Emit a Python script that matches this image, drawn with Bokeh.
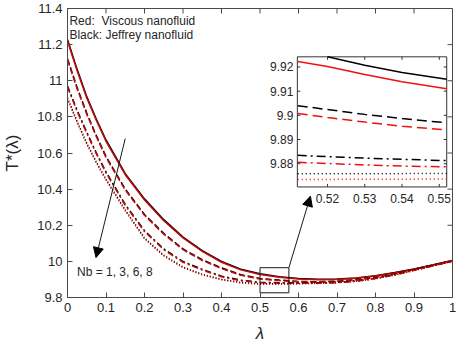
import math
from bokeh.plotting import figure
from bokeh.models import (Range1d, FixedTicker, CustomJSTickFormatter,
                          Arrow, NormalHead, Label)
from bokeh.embed import file_html
from bokeh.resources import INLINE
from bokeh.core.properties import value

# ---------------- data ----------------
lam = [0, 0.025, 0.05, 0.075, 0.1, 0.15, 0.2, 0.25, 0.3, 0.35, 0.4, 0.45, 0.5,
       0.55, 0.6, 0.65, 0.7, 0.75, 0.8, 0.85, 0.9, 0.95, 1.0]

# Red: viscous nanofluid
red_nb1 = [11.22, 11.055, 10.905, 10.78, 10.665, 10.48, 10.34, 10.225, 10.13, 10.055, 9.995, 9.953, 9.927,
           9.9115, 9.902, 9.898, 9.899, 9.906, 9.919, 9.936, 9.957, 9.98, 10.005]
red_nb3 = [11.115, 10.955, 10.815, 10.69, 10.575, 10.395, 10.255, 10.15, 10.065, 10.005, 9.96, 9.923, 9.9025,
           9.8935, 9.887, 9.885, 9.888, 9.897, 9.912, 9.931, 9.954, 9.978, 10.003]
red_nb6 = [10.965, 10.83, 10.71, 10.595, 10.49, 10.31, 10.165, 10.065, 9.995, 9.952, 9.915, 9.893, 9.8815,
           9.879, 9.8785, 9.879, 9.882, 9.89, 9.905, 9.926, 9.951, 9.976, 10.002]
red_nb8 = [10.90, 10.77, 10.65, 10.545, 10.45, 10.28, 10.125, 10.03, 9.965, 9.925, 9.898, 9.881, 9.8737,
           9.8741, 9.8755, 9.878, 9.882, 9.89, 9.904, 9.924, 9.949, 9.975, 10.0]
# Black: Jeffrey nanofluid
blk_nb1 = [11.228, 11.063, 10.912, 10.787, 10.672, 10.486, 10.346, 10.231, 10.135, 10.06, 10.0, 9.957, 9.931,
           9.9155, 9.905, 9.901, 9.902, 9.908, 9.921, 9.938, 9.958, 9.981, 10.005]
blk_nb3 = [11.122, 10.962, 10.821, 10.696, 10.581, 10.4, 10.26, 10.155, 10.069, 10.009, 9.964, 9.926, 9.9055,
           9.8965, 9.889, 9.887, 9.89, 9.899, 9.913, 9.932, 9.955, 9.979, 10.003]
blk_nb6 = [10.971, 10.836, 10.716, 10.6, 10.495, 10.315, 10.17, 10.069, 9.999, 9.956, 9.918, 9.896, 9.8843,
           9.8817, 9.881, 9.881, 9.884, 9.892, 9.906, 9.927, 9.952, 9.977, 10.002]
blk_nb8 = [10.905, 10.775, 10.655, 10.55, 10.455, 10.285, 10.13, 10.034, 9.969, 9.928, 9.901, 9.883, 9.876,
           9.876, 9.8775, 9.88, 9.884, 9.891, 9.905, 9.925, 9.95, 9.976, 10.0]

# inset (zoomed) readings
inset_lam = [0.512, 0.52, 0.53, 0.54, 0.552]
in_red_nb1 = [9.9223, 9.9202, 9.9169, 9.9139, 9.9110]
in_blk_nb1 = [float("nan"), 9.9242, 9.9207, 9.9177, 9.9149]
in_red_nb3 = [9.9008, 9.8991, 9.8972, 9.8955, 9.8940]
in_blk_nb3 = [9.9040, 9.9024, 9.9004, 9.8987, 9.8969]
in_red_nb6 = [9.8806, 9.8801, 9.8795, 9.8790, 9.8787]
in_blk_nb6 = [9.8835, 9.8829, 9.8823, 9.8818, 9.8813]
in_red_nb8 = [9.8735, 9.8735, 9.8736, 9.8736, 9.8737]
in_blk_nb8 = [9.8758, 9.8758, 9.8759, 9.8759, 9.8760]

x_ticks = [0, 0.1, 0.2, 0.3, 0.4, 0.5, 0.6, 0.7, 0.8, 0.9, 1.0]
y_ticks = [9.8, 10.0, 10.2, 10.4, 10.6, 10.8, 11.0, 11.2, 11.4]
inset_xticks = [0.52, 0.53, 0.54, 0.55]
inset_yticks = [9.88, 9.89, 9.90, 9.91, 9.92]

# ---------------- layout / style ----------------
x_lim = (0, 1)
y_lim = (9.8, 11.4)
inset_xlim = (0.5119, 0.552)
inset_ylim = (9.8704, 9.9242)
inset_fx = (0.597, 0.985)      # inset box position as fraction of main frame
inset_fy = (0.3826, 0.8328)
zoom_box = (0.5, 0.575, 9.826, 9.965)
nb_arrow = (0.150, 10.68, 0.074, 10.021)
zoom_arrow = (0.575, 9.965, 0.631, 10.361)

FONT = "Liberation Sans"
AX = "#4a4a4a"
TXT = "#262626"
RED = "#ee1111"
MAIN_RED = "#c80a0a"

main_dash = ["solid", "6 3", "6 3 2 3", "1 2"]
inset_dash = ["solid", "10 5", "9 4 2 4", "1 3"]
reds = [red_nb1, red_nb3, red_nb6, red_nb8]
blks = [blk_nb1, blk_nb3, blk_nb6, blk_nb8]
in_reds = [in_red_nb1, in_red_nb3, in_red_nb6, in_red_nb8]
in_blks = [in_blk_nb1, in_blk_nb3, in_blk_nb6, in_blk_nb8]

p = figure(width=458, height=345, x_range=Range1d(*x_lim), y_range=Range1d(*y_lim),
           output_backend="svg", toolbar_location=None,
           min_border_left=54, min_border_right=6, min_border_top=8, min_border_bottom=4)
p.background_fill_color = "white"
p.border_fill_color = "white"
p.xgrid.grid_line_color = None
p.ygrid.grid_line_color = None
p.outline_line_color = AX

fmt = CustomJSTickFormatter(code="return String(Math.round(tick*1000)/1000);")
for ax, ticks in ((p.xaxis[0], x_ticks), (p.yaxis[0], y_ticks)):
    ax.ticker = FixedTicker(ticks=ticks)
    ax.formatter = fmt
    ax.major_tick_in = 5
    ax.major_tick_out = 0
    ax.minor_tick_line_color = None
    ax.axis_line_color = AX
    ax.major_tick_line_color = AX
    ax.major_label_text_font = FONT
    ax.major_label_text_font_size = "13px"
    ax.major_label_text_color = TXT
    ax.major_label_standoff = 5
    ax.axis_label_text_font = FONT
    ax.axis_label_text_font_size = "17px"
    ax.axis_label_text_color = TXT
p.xaxis[0].axis_label = "λ"
p.xaxis[0].axis_label_text_font_style = "italic"
p.xaxis[0].axis_label_standoff = 9
p.yaxis[0].axis_label = "T*(λ)"
p.yaxis[0].axis_label_text_font_style = "normal"
p.yaxis[0].axis_label_standoff = 12

# box ticks on the top and right edges (pointing inward)
p.ray(x=x_ticks, y=[y_lim[1]] * len(x_ticks), length=5, length_units="screen",
      angle=-math.pi / 2, line_color=AX)
p.ray(x=[x_lim[1]] * len(y_ticks), y=y_ticks, length=5, length_units="screen",
      angle=math.pi, line_color=AX)

# main curves: black (Jeffrey) below, red (viscous) on top
for d, b, r in zip(main_dash, blks, reds):
    p.line(lam, b, line_color="black", line_width=1.5, line_dash=d)
    p.line(lam, r, line_color=MAIN_RED, line_width=1.5, line_dash=d)

# zoom rectangle
p.quad(left=zoom_box[0], right=zoom_box[1], bottom=zoom_box[2], top=zoom_box[3],
       fill_color=None, line_color="#1a1a1a", line_width=1)

# inset via extra ranges positioned on the frame
sx = (inset_xlim[1] - inset_xlim[0]) / (inset_fx[1] - inset_fx[0])
ix0 = inset_xlim[0] - inset_fx[0] * sx
sy = (inset_ylim[1] - inset_ylim[0]) / (inset_fy[1] - inset_fy[0])
iy0 = inset_ylim[0] - inset_fy[0] * sy
p.extra_x_ranges = {"ix": Range1d(ix0, ix0 + sx)}
p.extra_y_ranges = {"iy": Range1d(iy0, iy0 + sy)}
kw = dict(x_range_name="ix", y_range_name="iy")

p.quad(left=inset_xlim[0], right=inset_xlim[1], bottom=inset_ylim[0], top=inset_ylim[1],
       fill_color="white", line_color="#333333", line_width=1, **kw)
for d, b, r in zip(inset_dash, in_blks, in_reds):
    p.line(inset_lam, b, line_color="black", line_width=1.5, line_dash=d, **kw)
    p.line(inset_lam, r, line_color=RED, line_width=1.5, line_dash=d, **kw)

n = len(inset_xticks)
m = len(inset_yticks)
p.ray(x=inset_xticks, y=[inset_ylim[0]] * n, length=3, length_units="screen",
      angle=math.pi / 2, line_color="#333333", **kw)
p.ray(x=inset_xticks, y=[inset_ylim[1]] * n, length=3, length_units="screen",
      angle=-math.pi / 2, line_color="#333333", **kw)
p.ray(x=[inset_xlim[0]] * m, y=inset_yticks, length=3, length_units="screen",
      angle=0, line_color="#333333", **kw)
p.ray(x=[inset_xlim[1]] * m, y=inset_yticks, length=3, length_units="screen",
      angle=math.pi, line_color="#333333", **kw)
p.text(x=inset_xticks, y=[inset_ylim[0]] * n, text=[f"{t:g}" for t in inset_xticks],
       text_align="center", text_baseline="top", y_offset=7,
       text_font=value(FONT), text_font_size="12px", text_color=TXT, **kw)
p.text(x=[inset_xlim[0]] * m, y=inset_yticks, text=[f"{t:g}" for t in inset_yticks],
       text_align="right", text_baseline="middle", x_offset=-4,
       text_font=value(FONT), text_font_size="12px", text_color=TXT, **kw)

# arrows
for (x0, y0, x1, y1) in (nb_arrow, zoom_arrow):
    p.add_layout(Arrow(end=NormalHead(size=10, fill_color="black", line_color="black", line_width=1),
                       x_start=x0, y_start=y0, x_end=x1, y_end=y1,
                       line_color="#1a1a1a", line_width=1))

# annotations
for txt, x, y in (("Red:\u00a0 Viscous nanofluid", 0.005, 11.333),
                  ("Black: Jeffrey nanofluid", 0.005, 11.251),
                  ("Nb = 1, 3, 6, 8", 0.0246, 9.939)):
    p.add_layout(Label(x=x, y=y, text=txt, text_baseline="middle", text_align="left",
                       text_font=FONT, text_font_size="12px", text_color=TXT))

open("out.html", "w").write(file_html(p, INLINE))
